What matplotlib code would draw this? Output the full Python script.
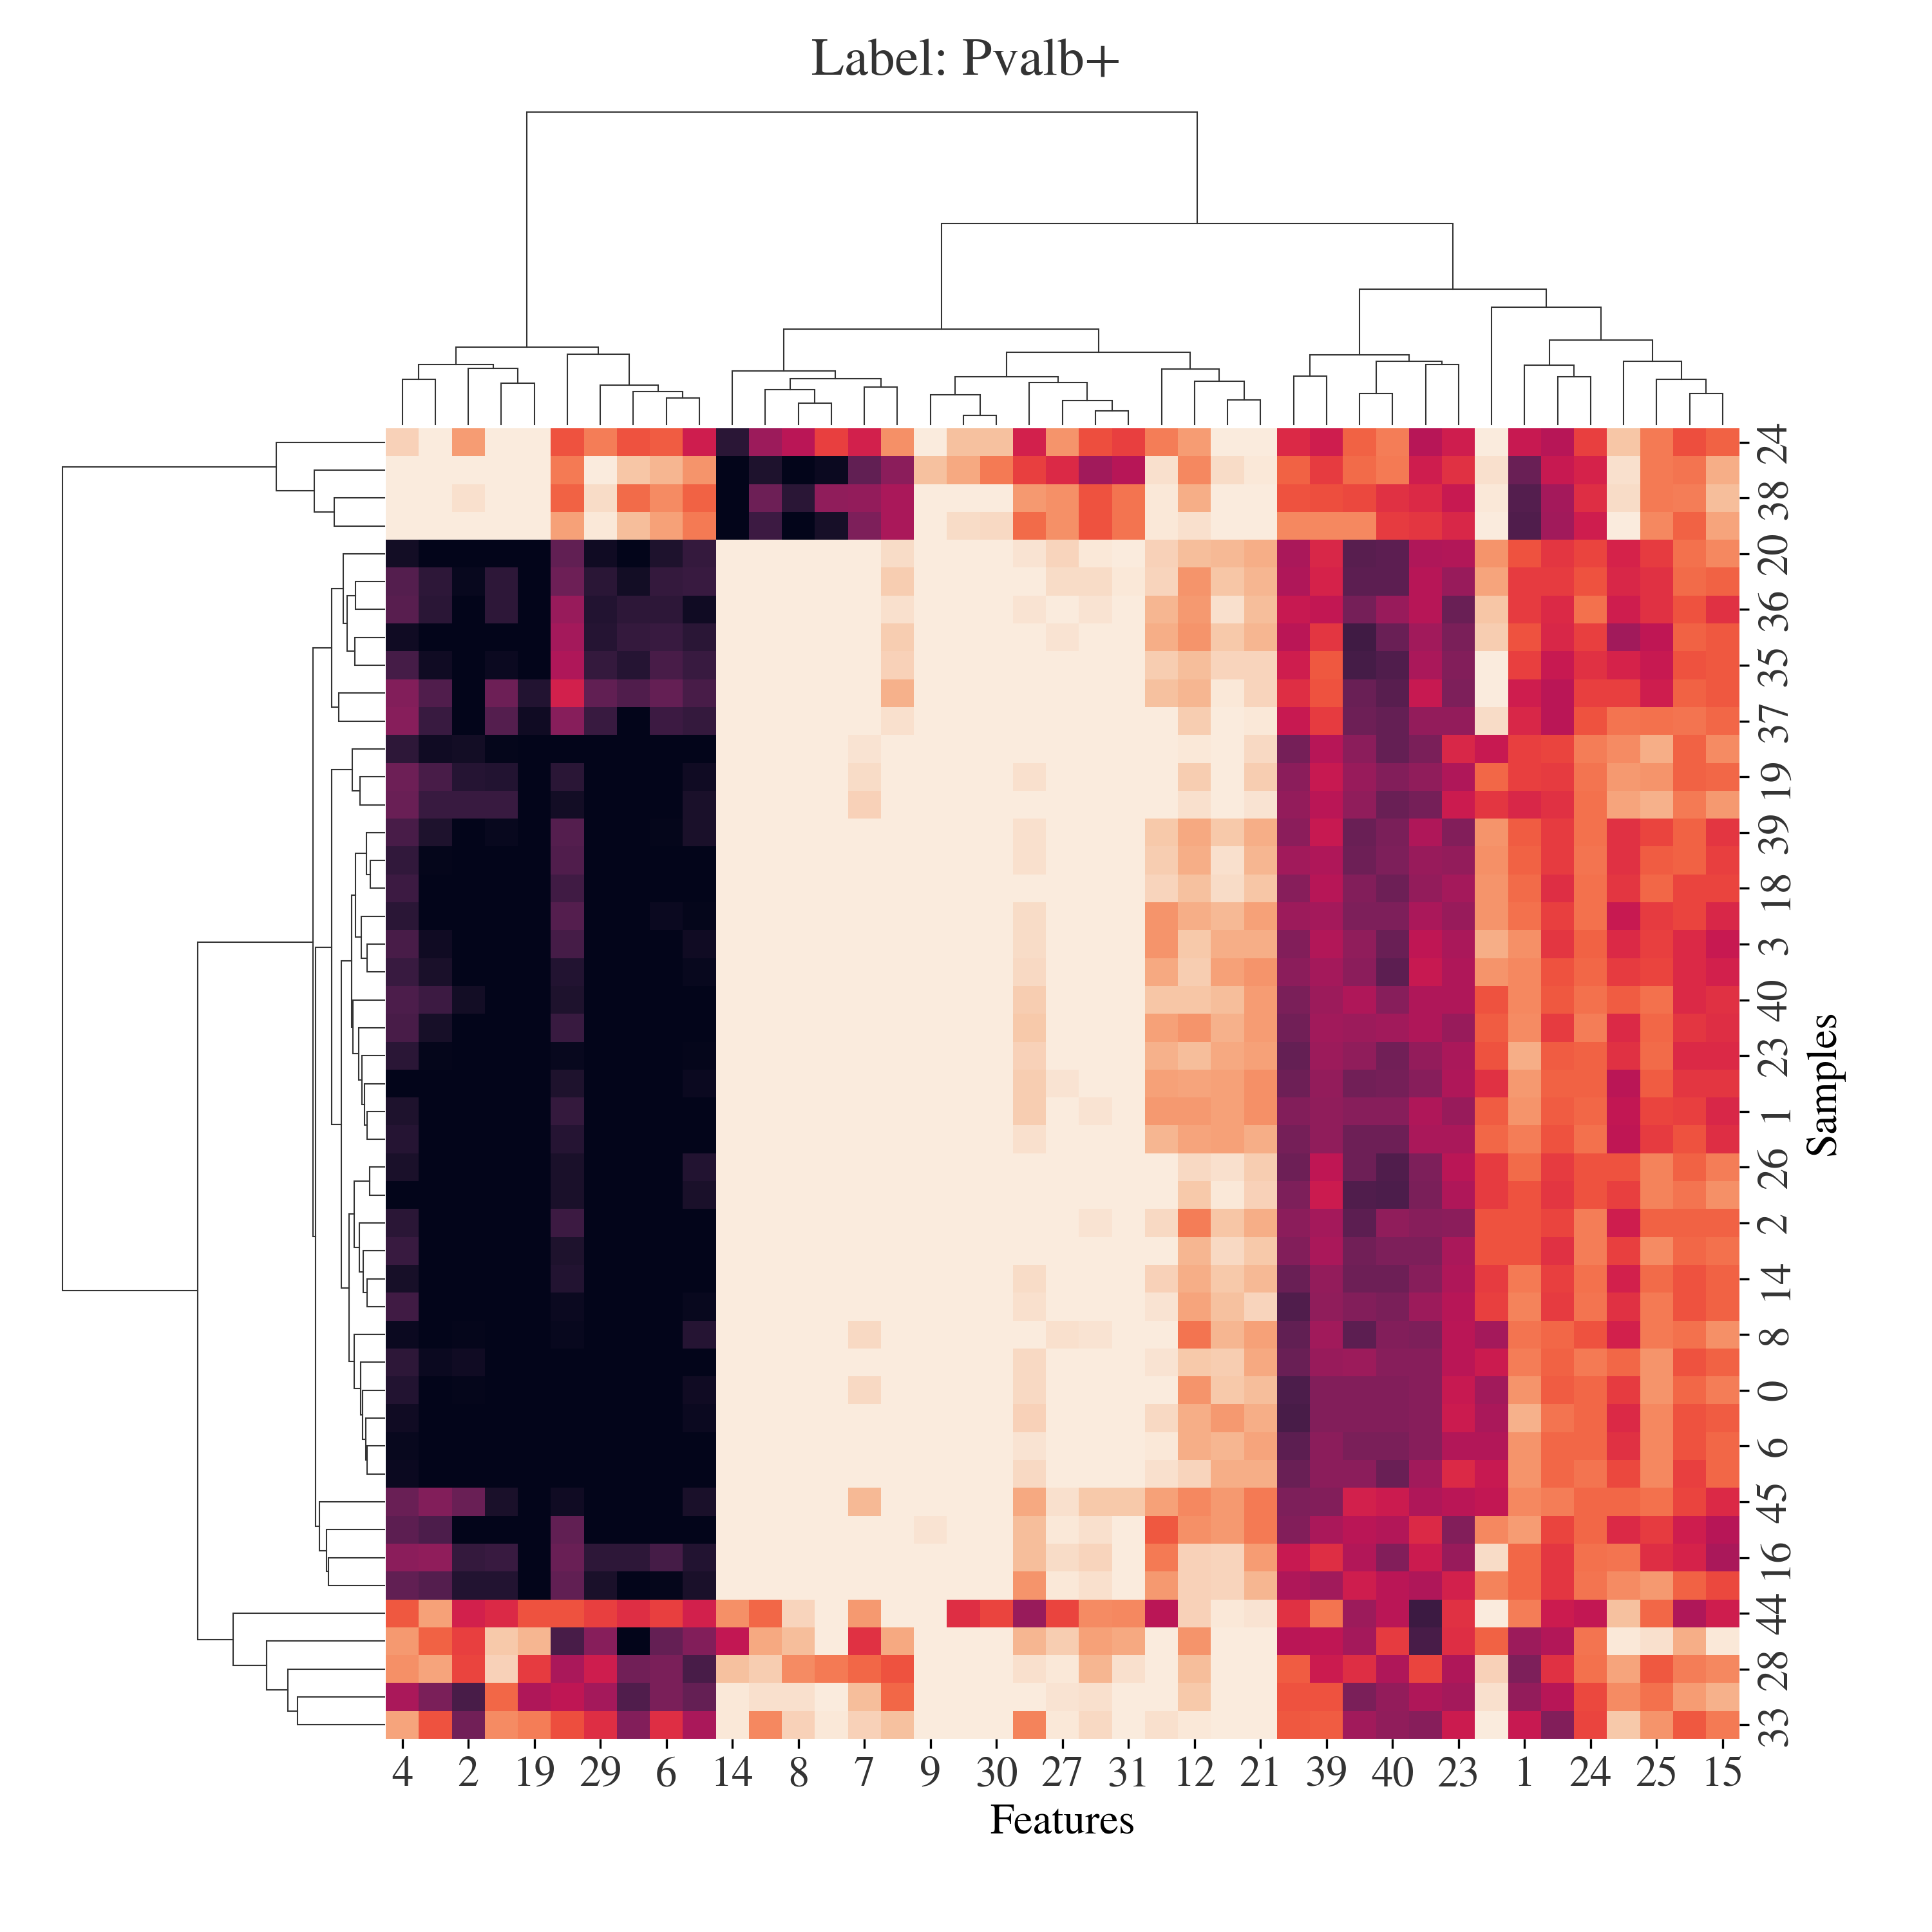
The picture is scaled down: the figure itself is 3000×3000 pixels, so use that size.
import matplotlib
matplotlib.use('Agg')
import numpy as np
import pandas as pd
import seaborn as sns
import matplotlib.pyplot as plt

plt.rcParams['font.family'] = ['STIXGeneral', 'Liberation Serif', 'DejaVu Serif']

feature_labels = [4, 2, 19, 29, 6, 14, 8, 7, 9, 30, 27, 31, 12, 21, 39, 40, 23, 1, 24, 25, 15]
sample_labels = [24, 38, 20, 36, 35, 37, 19, 39, 18, 3, 40, 23, 1, 26, 2, 14, 8, 0, 6, 45, 16, 44, 28, 33]

# values per row, 0-100, in clustered order
rows = [
    [93,100,80,100,100,64,73,64,66,51, 11,39,46,60,52,77,100,89,89,52, 78, 63,60,73,80,100,100,55,51,67,73,45,51,100,49,45,60,90,72,63,67],
    [100,100,100,100,100,72,100,90,86,78, 0,8,0,3,25,35,89,83,72,60, 55, 40,45,97,75,96,99,67,59,69,72,51,57,97,27,49,53,97,72,71,84],
    [100,100,97,100,100,67,96,69,76,67, 0,28,11,36,37,42,100,100,100,79, 77, 64,71,99,84,100,100,64,63,62,57,55,49,99,22,41,56,96,72,73,88],
    [100,100,100,100,100,81,99,88,81,72, 0,16,0,6,32,42,100,96,95,69, 77, 64,71,99,97,100,100,75,75,75,59,58,54,100,21,40,51,100,75,67,82],
    [5,0,0,0,0,25,4,0,8,14, 100,100,100,100,100,96,100,100,100,98, 94, 99,100,93,88,87,84,42,54,23,24,43,44,78,64,58,61,53,59,70,75],
    [22,12,2,12,0,28,11,5,14,15, 100,100,100,100,100,92,100,100,100,100, 96, 96,99,94,78,90,86,43,53,24,24,45,38,82,59,59,64,54,57,69,67],
    [23,11,0,12,0,38,9,12,12,4, 100,100,100,100,100,97,100,100,100,98, 100, 98,100,86,79,97,88,49,48,30,38,45,27,90,59,55,70,51,57,64,57],
    [4,0,0,0,0,41,10,14,15,11, 100,100,100,100,100,92,100,100,100,100, 98, 100,100,84,78,91,86,46,58,17,27,40,31,92,64,54,60,40,47,67,65],
    [18,4,0,3,0,43,14,10,19,15, 100,100,100,100,100,93,100,100,100,100, 100, 100,100,92,88,94,94,51,65,18,21,42,33,100,60,49,57,53,49,64,65],
    [33,21,0,28,9,52,25,21,26,19, 100,100,100,100,100,85,100,100,100,100, 100, 100,100,89,86,99,94,56,64,27,23,49,32,100,51,46,60,60,51,67,65],
    [34,15,0,22,4,34,15,0,16,14, 100,100,100,100,100,97,100,100,100,100, 100, 100,100,100,92,100,99,49,59,28,26,37,37,96,54,46,64,71,70,71,68],
    [12,4,5,1,0,0,0,0,0,0, 100,100,100,100,98,100,100,100,100,100, 100, 100,100,100,99,100,95,30,45,35,26,31,54,49,60,61,73,76,84,67,76],
    [28,19,10,9,0,11,0,0,0,4, 100,100,100,100,96,100,100,100,100,97, 100, 100,100,100,92,100,92,35,49,38,33,36,43,68,60,59,71,79,78,67,68],
    [27,15,15,15,0,5,0,0,0,7, 100,100,100,100,93,100,100,100,100,100, 100, 100,100,100,97,100,98,37,46,36,27,30,50,58,54,57,70,82,85,72,79],
    [19,8,0,2,0,22,0,0,1,7, 100,100,100,100,100,100,100,100,100,97, 100, 100,100,91,83,91,84,35,49,27,31,43,33,78,66,59,70,57,61,67,58],
    [13,1,0,0,0,21,0,0,0,0, 100,100,100,100,100,100,100,100,100,97, 100, 100,100,92,84,97,86,40,43,28,32,38,37,77,67,59,71,57,66,67,60],
    [16,0,0,0,0,17,0,0,0,0, 100,100,100,100,100,100,100,100,100,100, 100, 100,100,94,89,96,90,34,45,33,28,37,41,78,69,56,70,58,68,61,61],
    [11,0,0,0,0,22,0,0,3,1, 100,100,100,100,100,100,100,100,100,96, 100, 100,100,78,84,87,81,39,41,32,32,42,38,78,70,60,70,49,59,61,54],
    [19,4,0,0,0,18,0,0,0,4, 100,100,100,100,100,100,100,100,100,96, 100, 100,100,78,91,84,84,33,44,36,27,47,42,84,77,58,67,55,60,55,49],
    [15,7,0,0,0,9,0,0,0,2, 100,100,100,100,100,100,100,100,100,95, 100, 100,100,83,92,81,78,35,41,35,24,49,43,78,75,64,68,59,61,55,52],
    [20,16,5,0,0,8,0,0,0,0, 100,100,100,100,100,100,100,100,100,92, 100, 100,100,90,90,88,80,31,39,43,34,43,43,64,75,65,70,66,70,55,57],
    [19,6,0,0,0,15,0,0,0,0, 100,100,100,100,100,100,100,100,100,91, 100, 100,100,81,78,85,80,29,40,39,40,43,38,66,76,59,73,55,68,58,56],
    [11,1,0,0,0,2,0,0,0,1, 100,100,100,100,100,100,100,100,100,93, 100, 100,100,85,88,83,81,26,39,36,29,37,42,64,84,66,67,57,69,55,55],
    [0,0,0,0,0,8,0,0,0,3, 100,100,100,100,100,100,100,100,100,92, 98, 100,100,81,82,81,77,28,37,29,30,34,43,57,79,67,67,46,66,58,58],
    [8,0,0,0,0,14,0,0,0,0, 100,100,100,100,100,100,100,100,100,92, 100, 98,100,79,79,81,77,33,36,34,34,43,38,66,78,66,68,48,61,60,54],
    [10,0,0,0,0,10,0,0,0,0, 100,100,100,100,100,100,100,100,100,97, 100, 100,100,86,82,81,84,30,36,28,28,42,42,68,73,64,70,47,59,64,56],
    [7,0,0,0,0,7,0,0,0,9, 100,100,100,100,100,100,100,100,100,100, 100, 100,100,100,95,97,92,28,47,28,21,32,46,59,69,59,64,64,74,67,73],
    [0,0,0,0,0,7,0,0,0,7, 100,100,100,100,100,100,100,100,100,100, 100, 100,100,100,91,99,93,32,50,21,20,31,43,59,64,58,64,60,74,71,77],
    [11,0,0,0,0,16,0,0,0,0, 100,100,100,100,100,100,100,100,100,100, 100, 98,100,95,73,90,84,35,41,24,36,34,35,64,64,61,73,51,67,67,67],
    [15,0,0,0,0,8,0,0,0,0, 100,100,100,100,100,100,100,100,100,100, 100, 100,100,100,86,95,91,33,42,29,32,32,42,64,64,57,73,60,76,68,70],
    [6,0,0,0,0,9,0,0,0,0, 100,100,100,100,100,100,100,100,100,96, 100, 100,100,93,84,91,87,27,37,28,28,34,43,59,72,60,70,52,69,64,67],
    [17,0,0,0,0,3,0,0,0,2, 100,100,100,100,100,100,100,100,100,97, 100, 100,100,98,82,89,94,21,36,33,31,39,45,60,74,59,71,57,72,64,67],
    [3,0,1,0,0,2,0,0,0,10, 100,100,100,100,95,100,100,100,100,100, 97, 98,100,100,71,86,81,25,40,24,33,32,46,41,71,68,64,52,72,70,77],
    [12,3,4,0,0,0,0,0,0,0, 100,100,100,100,100,100,100,100,100,95, 100, 100,100,98,91,92,83,27,38,39,34,34,46,50,73,67,72,68,78,64,67],
    [9,0,1,0,0,0,0,0,0,4, 100,100,100,100,95,100,100,100,100,95, 100, 100,100,100,78,91,88,20,33,33,33,34,49,40,78,66,68,59,78,68,73],
    [4,0,0,0,0,0,0,0,0,3, 100,100,100,100,100,100,100,100,100,93, 100, 100,100,95,84,79,84,19,33,33,33,34,50,42,85,71,68,55,75,64,66],
    [2,0,0,0,0,0,0,0,0,0, 100,100,100,100,100,100,100,100,100,98, 100, 100,100,99,84,86,82,24,35,31,31,34,44,44,78,68,68,57,75,64,68],
    [3,0,0,0,0,0,0,0,0,0, 100,100,100,100,100,100,100,100,100,95, 100, 100,100,97,94,84,84,27,35,35,27,40,55,49,78,68,71,62,75,60,68],
    [27,33,27,7,0,4,0,0,0,7, 100,100,100,100,87,100,100,100,100,83, 97, 91,91,81,75,79,72,32,33,52,50,43,46,48,75,73,68,68,70,61,55],
    [24,20,0,0,0,25,0,0,0,0, 100,100,100,100,100,100,98,100,100,88, 99, 97,100,65,77,79,72,33,42,46,44,55,33,75,80,61,68,55,59,51,45],
    [35,36,14,15,0,27,12,12,18,9, 100,100,100,100,100,100,100,100,100,88, 96, 94,100,72,93,94,80,49,56,44,33,50,38,96,68,58,70,71,56,53,42],
    [25,22,9,9,0,25,7,0,1,7, 100,100,100,100,100,100,100,100,100,78, 99, 97,100,79,93,94,86,43,40,51,46,43,52,74,68,58,71,76,79,67,62],
    [65,81,52,55,64,64,60,56,60,52, 77,68,94,100,79,100,100,56,61,38, 61, 76,75,46,93,99,98,57,71,39,46,16,57,100,73,50,48,89,68,43,51],
    [79,67,60,91,86,19,34,0,26,33, 48,83,88,100,57,83,100,100,100,86, 92, 81,83,100,78,100,100,46,47,41,59,19,56,67,39,44,71,99,97,84,99],
    [77,82,61,93,59,42,51,29,31,19, 89,92,76,72,68,64,100,100,100,97, 99, 86,97,100,88,100,100,66,50,56,43,61,43,93,32,57,70,82,65,73,75],
    [42,31,19,68,43,47,41,21,31,26, 99,97,97,100,88,68,100,100,100,100, 98, 97,100,100,91,100,100,64,64,31,37,43,41,97,37,45,62,76,70,80,85],
    [82,64,29,76,73,63,56,33,56,42, 99,75,93,99,93,89,100,100,100,74, 99, 95,100,97,99,100,100,65,66,40,36,34,50,100,49,33,61,91,78,65,72],
]

# dendrograms: (left, right, merge height), ints are leaf positions
col_left = (((0, 1, 207), (2, (3, 4, 189), 257), 275),
            (5, (6, (7, (8, 9, 120), 151), 181), 323), 354)
col_mid_a = (10, ((11, (12, 13, 98), 159), (14, 15, 172), 210), 245)
col_mid_b = (((16, (17, 18, 42), 136), (19, (20, (21, 22, 61), 110), 192), 219),
             (23, (24, (25, 26, 113), 198), 255), 331)
col_right_a = ((27, 28, 222), ((29, 30, 142), (31, 32, 274), 289), 320)
col_right_b = (33, ((34, (35, 36, 219), 271), (37, (38, (39, 40, 142), 207), 289), 388), 538)
col_tree = (col_left, ((col_mid_a, col_mid_b, 437), (col_right_a, col_right_b, 620), 923), 1434)

row_top = (0, (1, (2, 3, 231), 323), 497)
row_a = ((4, ((5, 6, 134), (7, 8, 137), 172), 188), (9, 10, 210), 243)
row_b = (11, (12, 13, 112), 148)
row_c = (((14, (15, 16, 64), 83), (17, (18, 19, 80), 108), 132),
         (20, (21, (22, (23, (24, 25, 80), 92), 104), 119), 145), 151)
row_d = ((26, 27, 68), (28, (29, (30, 31, 80), 98), 116), 140)
row_e = (32, (33, (34, (35, (36, 37, 79), 86), 101), 110), 139)
row_f = (38, (39, (40, 41, 258), 267), 299)
row_g = (42, (43, (44, (45, 46, 400), 444), 542), 696)
row_mid = (row_a, ((row_b, (row_c, (row_d, row_e, 163), 199), 243), row_f, 317), 329)
row_tree = (row_top, (row_mid, row_g, 858), 1480)

W = 3000.0


def px_axes(fig, x0, y0, x1, y1):
    return fig.add_axes([x0 / W, 1 - y1 / W, (x1 - x0) / W, (y1 - y0) / W])


def segments(node, out):
    # returns (position, height) of node and collects the u-shapes
    if not isinstance(node, tuple):
        return node + 0.5, 0
    p1, h1 = segments(node[0], out)
    p2, h2 = segments(node[1], out)
    h = node[2]
    out.append(([p1, p1, p2, p2], [h1, h, h, h2]))
    return (p1 + p2) / 2, h


fig = plt.figure(figsize=(10, 10), dpi=300)

df = pd.DataFrame(np.array(rows))
ax = px_axes(fig, 599, 665, 2700.5, 2700)
sns.heatmap(df, ax=ax, cmap='rocket', vmin=0, vmax=100, cbar=False)
ax.set_xticks(np.arange(len(feature_labels)) * 2 + 0.5)
ax.set_xticklabels(feature_labels, rotation=0, fontsize=16, color='#333333')
ax.yaxis.tick_right()
ax.set_yticks(np.arange(len(sample_labels)) * 2 + 0.5)
ax.set_yticklabels(sample_labels, rotation=90, va='center', fontsize=16, color='#333333')
ax.tick_params(axis='both', length=3.5, width=0.8, color='black', pad=3)
ax.set_xlabel('Features', fontsize=16, color='black', labelpad=3.3)
ax.yaxis.set_label_position('right')
ax.set_ylabel('Samples', fontsize=16, color='black', labelpad=3.6)

top = px_axes(fig, 599, 150, 2700.5, 659)
col_lines = []
segments(col_tree, col_lines)
for xs, ys in col_lines:
    top.plot(xs, ys, color='#333333', lw=0.5, clip_on=False, solid_joinstyle='miter')
top.set_xlim(0, df.shape[1])
top.set_ylim(0, col_tree[2] * 1.05)
top.axis('off')

left = px_axes(fig, 72, 665, 597, 2700)
row_lines = []
segments(row_tree, row_lines)
for ys, xs in row_lines:
    left.plot(xs, ys, color='#333333', lw=0.5, clip_on=False, solid_joinstyle='miter')
left.set_ylim(df.shape[0], 0)
left.set_xlim(row_tree[2] * 1.05, 0)
left.axis('off')

fig.text(0.5, 1 - 96 / W, 'Label: Pvalb+', ha='center', va='center', fontsize=20, color='#333333')

fig.savefig('out.png', dpi=300)
